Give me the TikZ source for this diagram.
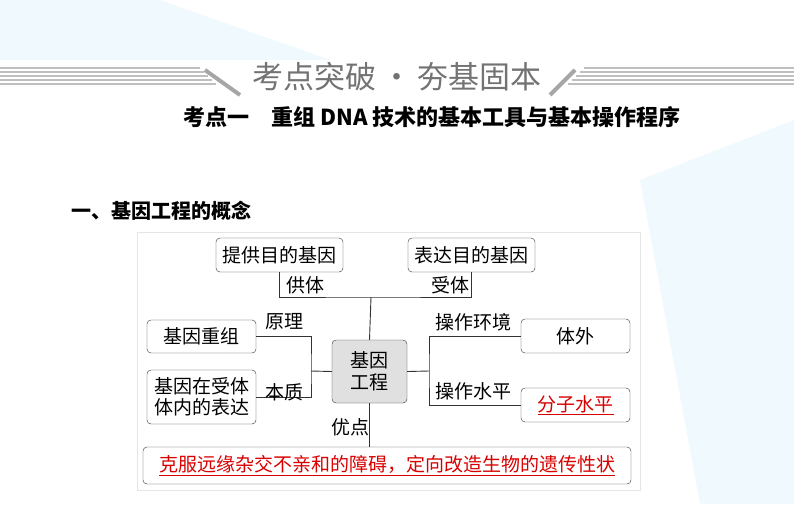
\documentclass[tikz,border=0pt]{standalone}
\usepackage{fontspec}
\setmainfont{Noto Sans CJK SC}
\usetikzlibrary{positioning}
\tikzset{
  box/.style={draw=black!80, rounded corners=4pt, fill=white, inner sep=2pt, font=\fontsize{19}{22}\selectfont},
  lbl/.style={font=\fontsize{19}{22}\selectfont},
  link/.style={draw=black!80, line width=0.9pt},
  hot/.style={text=red!85!black},
}
\newcommand{\redul}[1]{\underline{#1}}
\begin{document}
\begin{tikzpicture}[x=1pt,y=-1pt]
    \useasboundingbox (0,0) rectangle (794,504);
    \fill[white] (0,0) rectangle (794,504);
    \fill[cyan!6] (0,0) -- (160,0) -- (330,60) -- (0,60) -- cycle;
    \fill[cyan!6] (640,180) -- (794,120) -- (794,504) -- (700,504) -- cycle;
    % header band
    \foreach \y in {68,72,76,80,84}{
        \draw[black!25, line width=1.6pt] (0,\y) -- (200+\y-68,\y);
        \draw[black!25, line width=1.6pt] (584-\y+68,\y) -- (794,\y);
    }
    \draw[black!35, line width=4pt] (205,70) -- (240,95);
    \draw[black!35, line width=4pt] (575,70) -- (550,95);
    \node[text=black!55, font=\fontsize{31}{34}\selectfont] (title) at (397,77) {考点突破\,·\,夯基固本};
    \node[font=\bfseries\fontsize{22}{24}\selectfont] (sub) at (432,117) {考点一\quad 重组 DNA 技术的基本工具与基本操作程序};
    \node[anchor=west, font=\bfseries\fontsize{20}{22}\selectfont] (sec) at (68,211) {一、基因工程的概念};
    % diagram
    \draw[black!10, fill=white] (137,232) rectangle (640,490);
    \node[box, minimum width=127, minimum height=34] (donor) at (279.5,255) {提供目的基因};
    \node[box, minimum width=127, minimum height=34] (host) at (471.5,255) {表达目的基因};
    \node[box, fill=black!12, minimum width=75, minimum height=63, align=center] (ge) at (369.5,371.5) {基因\\工程};
    \node[box, minimum width=109, minimum height=33] (recomb) at (201.5,336.5) {基因重组};
    \node[box, minimum width=109, minimum height=54, align=left, font=\fontsize{19}{21}\selectfont] (expr) at (201.5,397) {基因在受体\\体内的表达};
    \node[box, minimum width=109, minimum height=34] (outside) at (575.5,336) {体外};
    \node[box, hot, minimum width=109, minimum height=34] (mol) at (575.5,405) {\redul{分子水平}};
    \node[box, hot, minimum width=488, minimum height=37] (adv) at (387,465.5) {\redul{克服远缘杂交不亲和的障碍，定向改造生物的遗传性状}};
    \coordinate (top) at (371,297);
    \coordinate (lj) at (311,371);
    \coordinate (rj) at (429,371);
    \path[link] (donor.south) |- (top) -| (host.south);
    \path[link] (top) -- (ge.north);
    \path[link] (recomb.east) -| (lj) |- (expr.east);
    \path[link] (lj) -- (ge.west);
    \path[link] (outside.west) -| (rj) |- (mol.west);
    \path[link] (rj) -- (ge.east);
    \path[link] (ge.south) -- (adv.north -| ge.south);
    \node[lbl] (l1) at (305,285) {供体};
    \node[lbl] (l2) at (450,285) {受体};
    \node[lbl] (l3) at (284,322) {原理};
    \node[lbl] (l4) at (284,392) {本质};
    \node[lbl] (l5) at (473,322) {操作环境};
    \node[lbl] (l6) at (473,391) {操作水平};
    \node[lbl] (l7) at (350,427) {优点};
\end{tikzpicture}
\end{document}
